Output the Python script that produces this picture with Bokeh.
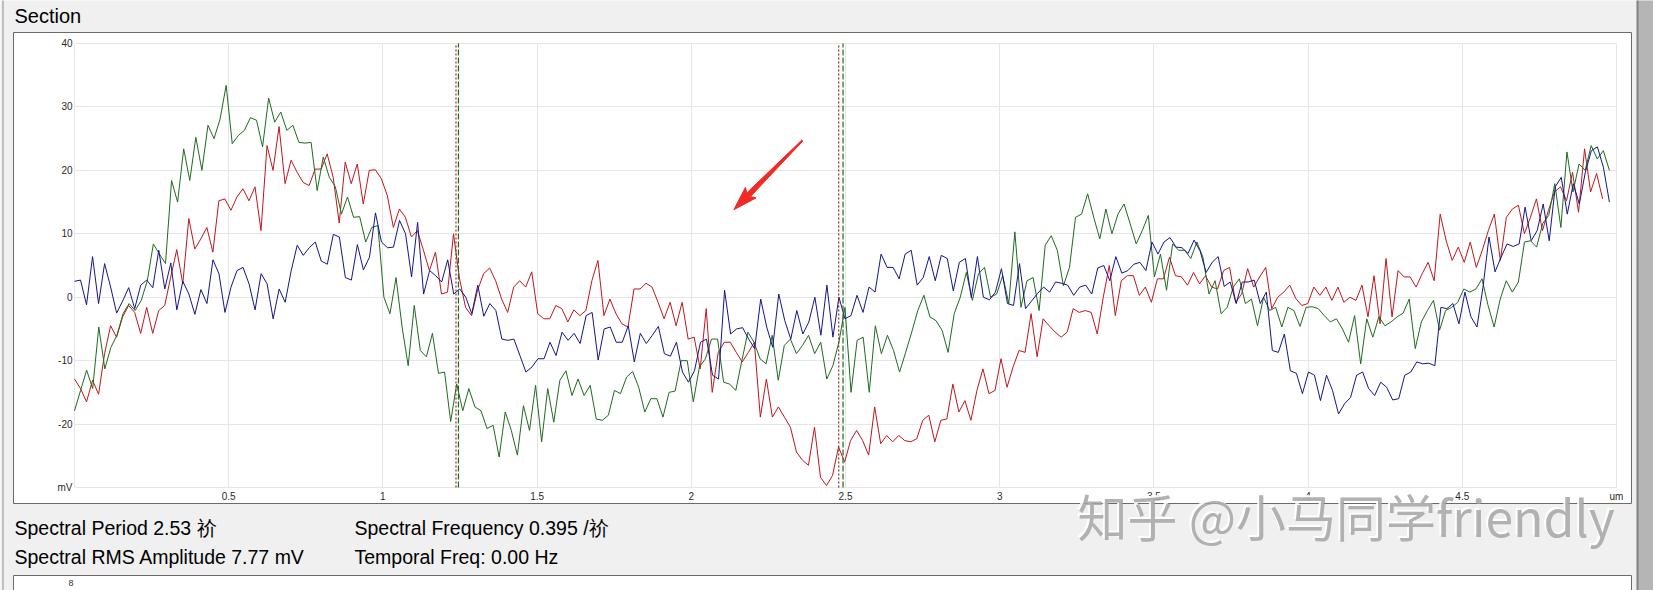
import math
import numpy as np
from bokeh.plotting import figure
from bokeh.models import Range1d, FixedTicker, BoxAnnotation, Label
from bokeh.embed import file_html
from bokeh.resources import INLINE

# ---------------- data ----------------
RED = [
    -12.9, -14.4, -16.5, -13.1, -15.3, -8.9, -4.5, -6.3, -3.1, -1.3,
    -2.4, -5.7, -1.6, -5.7, -2.1, -1.3, 3.2, 7.5, 2.1, 12.4,
    7.6, 9.2, 11.0, 7.1, 15.2, 15.5, 13.7, 15.8, 17.1, 15.2,
    17.4, 10.5, 23.9, 20.0, 26.9, 17.9, 21.6, 19.7, 18.1, 17.6,
    20.2, 20.2, 22.6, 18.9, 11.7, 21.3, 17.9, 21.0, 14.7, 20.0,
    20.1, 18.7, 16.0, 11.0, 13.9, 12.6, 9.5, 10.5, 7.4, 4.2,
    7.1, 0.5, 0.8, 10.0, 2.9,
    -1.6, -2.9, 1.1, 3.7, 4.6, 2.6, -0.3, -2.4, 1.6, 2.6,
    1.6, 4.0, -2.6, -3.4, -3.4, -1.3, -1.8, -3.9, -2.0, -2.9,
    -2.1, 2.6, 5.8, -2.9, -0.3, -2.6, -4.2, -4.7, 1.3, 1.3,
    2.2, 1.6, -0.8, -3.4, -0.8, -4.5, -0.8, -6.6, -6.3, -11.3,
    -1.8, -15.0, -8.7, -7.1, -7.1, -8.7, -10.2, -8.7, -7.1, -18.9,
    -12.9, -18.9, -17.3, -18.9, -20.5, -24.4, -25.7, -26.5, -20.5, -28.4,
    -29.7, -28.1, -23.6, -26.0,
    -22.6, -21.0, -22.6, -24.9, -17.3, -23.1, -21.8, -22.8, -21.8, -22.6,
    -22.8, -22.3, -19.4, -18.6, -22.8, -19.4, -19.2, -13.7, -18.1, -16.3,
    -19.4, -14.7, -11.3, -15.2, -14.7, -9.7, -14.2, -11.0, -8.4, -8.7,
    -2.6, -9.4, -3.4, -4.5, -5.5, -6.3, -5.5, -1.8, -2.4, -2.1,
    -2.4, -5.8, 0.0, 5.0, -2.9, 2.6, 3.4, 3.4, 0.3, 1.6,
    -0.8, 2.9, 2.9, 6.3, 3.4, 3.2, 1.9, 3.9, 2.1, 3.4,
    1.6, 1.3, 4.2, 4.7,
    -0.8, 0.5, 4.5, 1.6, 3.2, 4.7, -1.8, 0.0, 0.8, 1.9,
    -0.2, -1.3, -1.0, 1.6, 0.3, 1.6, -0.5, 1.6, -0.8, 0.0,
    -0.5, 1.9, -3.1, 3.4, -4.2, 6.1, -3.1, 4.2, 3.2, 3.2,
    1.6, 3.7, 5.5, 2.6, 13.1, 8.9, 5.8, 7.9, 5.5, 8.7,
    4.7, 7.4, 10.5, 13.1, 5.8, 12.6, 13.9, 14.5, 10.0, 12.6,
    15.5, 10.5, 13.7, 16.6, 17.4, 15.2, 19.7, 13.4, 23.4, 16.6,
    19.5, 15.5,
]

GREEN = [
    -17.9, -14.7, -11.5, -14.4, -4.7, -11.3, -7.9, -6.0, -2.6, -1.0,
    -2.1, -0.5, 2.6, 8.4, 6.8, 5.3, 18.4, 15.0, 23.4, 18.4,
    25.2, 20.0, 27.1, 25.0, 28.1, 33.4, 24.2, 25.5, 26.3, 28.3,
    27.9, 23.7, 31.4, 27.6, 29.2, 26.3, 27.1, 24.4, 24.3, 24.4,
    16.8, 22.1, 18.9, 17.4, 13.1, 15.8, 12.6, 12.7, 8.7, 11.0,
    11.3, 0.0, -2.6, 3.1, -4.7, -10.8, -1.3, -8.4, -9.4, -5.7,
    -12.0, -11.8, -19.6, -13.7,
    -17.9, -14.4, -17.3, -17.9, -20.7, -20.2, -25.2, -18.1, -21.0, -24.9,
    -17.1, -21.0, -13.9, -22.8, -14.4, -19.7, -13.1, -11.6, -15.5, -12.9,
    -15.5, -13.9, -19.2, -19.4, -18.6, -14.7, -15.2, -12.6, -11.7, -14.2,
    -18.1, -16.0, -16.0, -18.9, -15.0, -14.8, -10.0, -10.0, -16.5, -11.0,
    -9.7, -6.6, -6.6, -13.4, -13.7, -14.7, -10.0, -5.5, -7.1, -9.7,
    -10.5, -6.0, -13.1, -7.6, -6.6, -8.9, -7.6, -6.0, -8.9, -7.1,
    -12.9, -10.8, -7.1, -1.6,
    -15.0, -6.8, -6.3, -15.0, -4.5, -8.9, -6.0, -8.4, -11.8, -8.7,
    -5.5, -2.1, 0.3, -3.1, -3.7, -5.2, -8.7, -2.6, 0.0, 3.9,
    -0.5, 3.7, 4.7, 0.0, 0.5, 3.4, -1.0, 10.3, -1.6, 2.6,
    3.1, -2.1, 8.2, 9.7, 7.4, 1.8, 4.7, 12.6, 13.1, 16.3,
    12.6, 9.2, 13.9, 10.0, 13.1, 14.7, 11.6, 8.4, 10.5, 12.9,
    3.2, 6.8, 1.1, 8.4, 7.4, 7.4, 6.1, 8.7, 6.3, 0.5,
    2.6, -2.6, -1.6,
    1.6, 2.9, -1.0, -0.3, -4.5, 0.0, -2.1, -1.6, -4.7, -1.6,
    -2.1, -4.6, -1.6, -1.5, -1.8, -2.9, -3.9, -3.4, -5.0, -7.1,
    -2.9, -10.5, -3.4, -6.3, -3.1, -4.5, -3.9, -3.1, -2.5, -0.3,
    -8.1, -3.9, -2.1, -0.5, -5.2, -2.1, -1.6, -0.8, 1.3, 0.8,
    1.3, 2.9, -1.3, -4.7, -0.3, 2.6, 0.8, 2.4, 8.7, 8.9,
    7.9, 11.6, 12.9, 17.9, 11.0, 22.9, 16.6, 21.0, 20.0, 23.9,
    21.8, 23.1, 20.0,
]

BLUE = [
    2.5, 2.7, -1.2, 6.4, -1.0, 5.3, 1.6, -2.5, -0.6, 1.5,
    -1.8, 1.9, 2.7, 1.5, 7.4, 1.3, 5.4, -2.0, 2.5, 0.5,
    -2.7, 1.2, -1.0, 5.9, 3.7, -2.4, 1.6, 4.2, 4.7, 2.1,
    -2.0, 3.7, 2.1, -3.4, 1.3, -0.8, 4.2, 8.2, 6.6, 7.8,
    8.7, 5.7, 5.2, 9.9, 9.5, 3.1, 2.7, 8.3, 4.3, 6.3,
    13.3, 8.7, 7.8, 7.9, 12.1, 10.0, 3.2, 11.8, 0.5, 4.2,
    3.4, 2.4, 5.9, 0.5, 1.3,
    0.0, -2.6, 1.9, -3.0, -1.0, -2.1, -6.6, -6.8, -6.6, -9.2,
    -11.8, -11.0, -9.7, -9.7, -7.1, -9.2, -5.5, -6.8, -5.7, -7.3,
    -2.9, -2.4, -9.9, -5.0, -4.7, -7.1, -7.1, -4.5, -10.2, -5.7,
    -7.3, -6.0, -4.6, -8.9, -9.3, -7.1, -11.8, -13.4, -11.6, -7.1,
    -6.6, -12.3, -12.9, 1.1, -5.8, -5.0, -4.8, -6.6, -8.1, -0.3,
    -4.7, -7.9, 0.5, -3.7, -6.6, -2.1, -5.8, -3.9, 0.0, -6.0,
    1.9, -6.3, 0.0, -3.4,
    -2.9, 0.3, -2.4, 1.6, 0.8, 6.8, 4.7, 4.7, 2.9, 6.8,
    7.4, 1.9, 3.1, 6.4, 2.6, 6.6, 6.1, 1.0, 5.5, 6.1,
    -0.1, 6.4, 0.0, -0.4, 0.8, 4.5, -1.0, -1.3, 5.3, -1.8,
    -0.6, 0.6, 1.6, 0.8, 2.4, 2.2, 1.9, 0.3, 1.6, 1.9,
    0.5, 4.6, 5.0, 2.6, 6.4, 3.8, 4.2, 5.2, 5.5, 4.2,
    8.7, 6.8, 8.7, 9.4, 7.9, 7.8, 6.9, 9.0, 7.3, 3.9,
    5.5, 6.4, 1.7, 2.4,
    -1.0, 2.4, 2.4, 2.7, -1.0, 0.8, -8.4, -8.7, -5.8, -11.6,
    -12.0, -15.2, -11.8, -12.3, -16.3, -12.3, -14.7, -18.4, -16.8, -15.8,
    -12.3, -11.8, -14.4, -15.5, -13.4, -14.2, -16.2, -16.0, -12.3, -11.8,
    -10.2, -10.5, -10.4, -10.8, -1.6, -1.8, -1.0, -4.2, 0.8, -3.1,
    -4.7, 1.6, 9.5, 4.0, 6.3, 8.4, 8.0, 8.4, 14.2, 8.9,
    10.5, 14.7, 8.9, 17.4, 18.9, 13.1, 17.9, 14.7, 19.7, 23.1,
    23.7, 20.5, 15.0,
]

SERIES = [RED, GREEN, BLUE]
SERIES_END_X = [4.955, 4.977, 4.977]          # last sample position (um)
SERIES_COLORS = ["#c0161c", "#1d6b1d", "#14148a"]

X_TICKS = [0.5, 1, 1.5, 2, 2.5, 3, 3.5, 4, 4.5, 5]
X_TICK_LABELS = ["0.5", "1", "1.5", "2", "2.5", "3", "3.5", "4", "4.5", "um"]
X_GRID = [0, 0.5, 1, 1.5, 2, 2.5, 3, 3.5, 4, 4.5, 5]
Y_TICKS = [-30, -20, -10, 0, 10, 20, 30, 40]
Y_TICK_LABELS = ["mV", "-20", "-10", "0", "10", "20", "30", "40"]
X_MIN, X_MAX = 0, 5
Y_MIN, Y_MAX = -30, 40

CURSOR_RED_X = [1.237, 2.478]
CURSOR_GREEN_X = [1.245, 2.492]

ARROW_TAIL = (2.360, 24.7)
ARROW_TIP = (2.138, 13.8)

TITLE = "Section"
INFO_LEFT = ["Spectral Period 2.53 祄", "Spectral RMS Amplitude 7.77 mV"]
INFO_RIGHT = ["Spectral Frequency 0.395 /祄", "Temporal Freq: 0.00 Hz"]
WATERMARK = "知乎 @小马同学friendly"
LOWER_PANEL_TOP_TICK = "8"

# ---------------- layout (window pixels) ----------------
W, H = 1653, 590
PAGE = 0
PX_X0, PX_X5 = 74.0, 1616.0     # window x of x=0 and x=5
PX_YTOP, PX_YBOT = 43.0, 487.0  # window y of y=40 and y=-30
XS = (PX_X5 - PX_X0) / (X_MAX - X_MIN)
YS = (PX_YBOT - PX_YTOP) / (Y_MAX - Y_MIN)


def px_x(wx):
    return X_MIN + (wx - PX_X0) / XS


def px_y(wy):
    return Y_MAX - (wy - PX_YTOP) / YS


p = figure(width=W, height=H,
           x_range=Range1d(px_x(PAGE), px_x(PAGE + W)),
           y_range=Range1d(px_y(PAGE + H), px_y(PAGE)),
           output_backend="svg", toolbar_location=None,
           min_border=0, background_fill_color="#f0f0f0",
           border_fill_color="#f0f0f0", outline_line_color=None)


def panel(l, r, t, b, fill, line=None, lw=1):
    p.add_layout(BoxAnnotation(left=px_x(l), right=px_x(r), top=px_y(t), bottom=px_y(b),
                               fill_color=fill, fill_alpha=1,
                               line_color=line if line else fill,
                               line_alpha=1 if line else 0, line_width=lw, level="image"))


panel(13, 1631, 32, 503, "white", "#6a6a6a")
panel(13, 1631, 575, 640, "white", "#6a6a6a")
panel(1637, 1700, -20, 700, "#b5b5b5", "#828282", 2)
panel(2, 3, -20, 700, "#8e8e8e")

# axes drawn inside the white box
xa = p.xaxis[0]
xa.fixed_location = Y_MIN
xa.ticker = FixedTicker(ticks=X_TICKS)
xa.major_label_overrides = dict(zip(X_TICKS, X_TICK_LABELS))
ya = p.yaxis[0]
ya.fixed_location = X_MIN
ya.ticker = FixedTicker(ticks=Y_TICKS)
ya.major_label_overrides = dict(zip(Y_TICKS, Y_TICK_LABELS))
for ax in (xa, ya):
    ax.axis_line_color = None
    ax.major_tick_line_color = None
    ax.minor_tick_line_color = None
    ax.major_tick_out = 0
    ax.major_tick_in = 0
    ax.major_label_text_font = "Liberation Sans"
    ax.major_label_text_font_size = "10px"
    ax.major_label_text_color = "#2a2a2a"
xa.major_label_standoff = 3
ya.major_label_standoff = 2

p.xgrid.ticker = FixedTicker(ticks=X_GRID)
p.ygrid.ticker = FixedTicker(ticks=Y_TICKS)
for g in (p.xgrid, p.ygrid):
    g.grid_line_color = "#e6e6e6"
    g.grid_line_width = 1
p.xgrid.cross_bounds = (Y_MIN, Y_MAX)
p.ygrid.cross_bounds = (X_MIN, X_MAX)

# series
for vals, end, col in zip(SERIES, SERIES_END_X, SERIES_COLORS):
    xs = np.linspace(0, end, len(vals))
    p.line(xs, vals, line_color=col, line_width=1)

# cursors
p.segment(x0=CURSOR_RED_X, x1=CURSOR_RED_X, y0=[Y_MIN] * 2, y1=[Y_MAX] * 2,
          line_color="#8e2a22", line_width=1.2, line_dash="2 2")
p.segment(x0=CURSOR_GREEN_X, x1=CURSOR_GREEN_X, y0=[Y_MIN] * 2, y1=[Y_MAX] * 2,
          line_color="#1f6a1f", line_width=1.2, line_dash="6 2")


# red arrow (tapered shaft + head), geometry in pixels, converted to data
def arrow_poly(tail, tip, head_len=21.0, head_half=7.5, shaft_tail=0.7, shaft_head=2.6):
    tx, ty = tail[0] * XS, -tail[1] * YS
    hx, hy = tip[0] * XS, -tip[1] * YS
    dx, dy = hx - tx, hy - ty
    L = math.hypot(dx, dy)
    ux, uy = dx / L, dy / L
    nx, ny = -uy, ux
    bx, by = hx - ux * head_len, hy - uy * head_len
    pts = [(tx + nx * shaft_tail, ty + ny * shaft_tail),
           (bx + nx * shaft_head, by + ny * shaft_head),
           (bx - ux * 3 + nx * head_half, by - uy * 3 + ny * head_half),
           (hx, hy),
           (bx - ux * 3 - nx * head_half, by - uy * 3 - ny * head_half),
           (bx - nx * shaft_head, by - ny * shaft_head),
           (tx - nx * shaft_tail, ty - ny * shaft_tail)]
    return [q[0] / XS for q in pts], [-q[1] / YS for q in pts]


ax_, ay_ = arrow_poly(ARROW_TAIL, ARROW_TIP)
p.patch(ax_, ay_, fill_color="#f02a24", line_color="#f02a24", line_width=1)

# texts
FONT = "Liberation Sans"


def label(wx, wy, text, size, color="#000000", font=FONT, alpha=1.0, align="left"):
    p.add_layout(Label(x=px_x(wx), y=px_y(wy), text=text, text_font=font,
                       text_font_size=size, text_color=color, text_alpha=alpha,
                       text_align=align, text_baseline="middle", level="overlay"))


label(14, 15, TITLE, "20px")
for i, t in enumerate(INFO_LEFT):
    label(14, 527 + 29 * i, t, "19.5px")
for i, t in enumerate(INFO_RIGHT):
    label(354, 527 + 29 * i, t, "19.5px")
label(73, 582, LOWER_PANEL_TOP_TICK, "9px", color="#303030", align="right")

# watermark
label(1075, 512, WATERMARK, "50px", color="#ffffff", font="Noto Sans CJK SC", alpha=0.9)
label(1077, 514, WATERMARK, "50px", color="#a4a4a4", font="Noto Sans CJK SC", alpha=0.85)

open("out.html", "w").write(file_html(p, INLINE))
